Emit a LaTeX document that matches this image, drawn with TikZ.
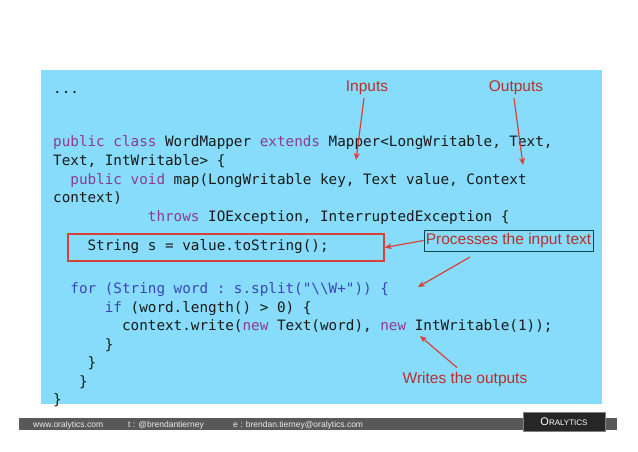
\documentclass[tikz,border=0pt]{standalone}
\usepackage{fontspec}
\setmainfont{Liberation Sans}
\setmonofont{DejaVu Sans Mono}
\usetikzlibrary{arrows.meta}
\definecolor{bg}{HTML}{86DCFA}
\definecolor{kw}{HTML}{8E3B8E}
\definecolor{fl}{HTML}{3A46B8}
\definecolor{rd}{HTML}{D8413A}
\definecolor{lb}{HTML}{B8302E}
\newcommand{\K}[1]{\textcolor{kw}{#1}}
\begin{document}
\begin{tikzpicture}[x=1pt,y=-1pt,
  code/.style={anchor=base west,inner sep=0pt,font=\fontsize{14.3}{16}\ttfamily,text=black!90},
  lab/.style={inner sep=1pt,font=\fontsize{15.5}{17}\selectfont,text=lb},
  arr/.style={draw=rd,line width=1.2pt,-{Stealth[length=7pt,width=6pt]}},
  foot/.style={anchor=base west,inner sep=0pt,font=\fontsize{8.5}{10}\selectfont,text=white!85!gray}]
\useasboundingbox (0,0) rectangle (638,451);
\fill[white] (0,0) rectangle (638,451);
\fill[bg] (41,70) rectangle (602,404);
\node[code] (l1) at (53,93) {...};
\node[code] (l2) at (53,146) {\K{public class} WordMapper \K{extends} Mapper<LongWritable, Text,};
\node[code] (l3) at (53,165) {Text, IntWritable> \{};
\node[code] (l4) at (53,184) {\ \ \K{public void} map(LongWritable key, Text value, Context};
\node[code] (l5) at (53,202) {context)};
\node[code] (l6) at (53,221) {\hphantom{aaaaaaaaaaa}\K{throws} IOException, InterruptedException \{};
\node[code] (l7) at (53,250) {\hphantom{aaaa}String s = value.toString();};
\node[code,text=fl] (l8) at (53,293) {\ \ for (String word : s.split("\textbackslash\textbackslash W+")) \{};
\node[code] (l9) at (53,312) {\hphantom{aaaaaa}\textcolor{fl}{if} (word.length() > 0) \{};
\node[code] (l10) at (53,330) {\hphantom{aaaaaaaa}context.write(\K{new} Text(word), \K{new} IntWritable(1));};
\node[code] (l11) at (53,349) {\hphantom{aaaaaa}\}};
\node[code] (l12) at (53,367) {\hphantom{aaaa}\}};
\node[code] (l13) at (53,386) {\hphantom{aaa}\}};
\node[code] (l14) at (53,404) {\}};
\node[draw=rd,line width=1.5pt,minimum width=316pt,minimum height=27pt,inner sep=0pt] (sbox) at (226,247.5) {};
\node[lab,draw=teal!60!black,line width=0.8pt,minimum width=169pt,minimum height=21pt,inner sep=0pt] (proc) at (508.5,240.5) {Processes the input text};
\node[lab] (inp) at (367,88) {Inputs};
\node[lab] (outp) at (516,88) {Outputs};
\node[lab] (wr) at (465,379) {Writes the outputs};
\coordinate (pin) at (356,160);
\coordinate (pout) at (523,165);
\coordinate (pfor) at (418,287);
\coordinate (pwr) at (420,336);
\draw[arr] (inp.south) ++(-3,2) -- (pin);
\draw[arr] (outp.south) ++(-2,2) -- (pout);
\draw[arr] (proc.west) -- (sbox.east);
\draw[arr] (470,257) -- (pfor);
\draw[arr] (wr.north) ++(-8,-3) -- (pwr);
\fill[black!65] (19,418) rectangle (617,430);
\node[foot] (f1) at (33,427.5) {www.oralytics.com};
\node[foot] (f2) at (128,427.5) {t : @brendantierney};
\node[foot] (f3) at (233,427.5) {e : brendan.tierney@oralytics.com};
\node[draw=black!50,fill=black!85,line width=0.8pt,minimum width=82pt,minimum height=19pt,inner sep=0pt,text=white,font=\fontsize{8}{10}\selectfont] (logo) at (564,421.5) {{\fontsize{11}{10}\selectfont O}RALYTICS};
\end{tikzpicture}
\end{document}
